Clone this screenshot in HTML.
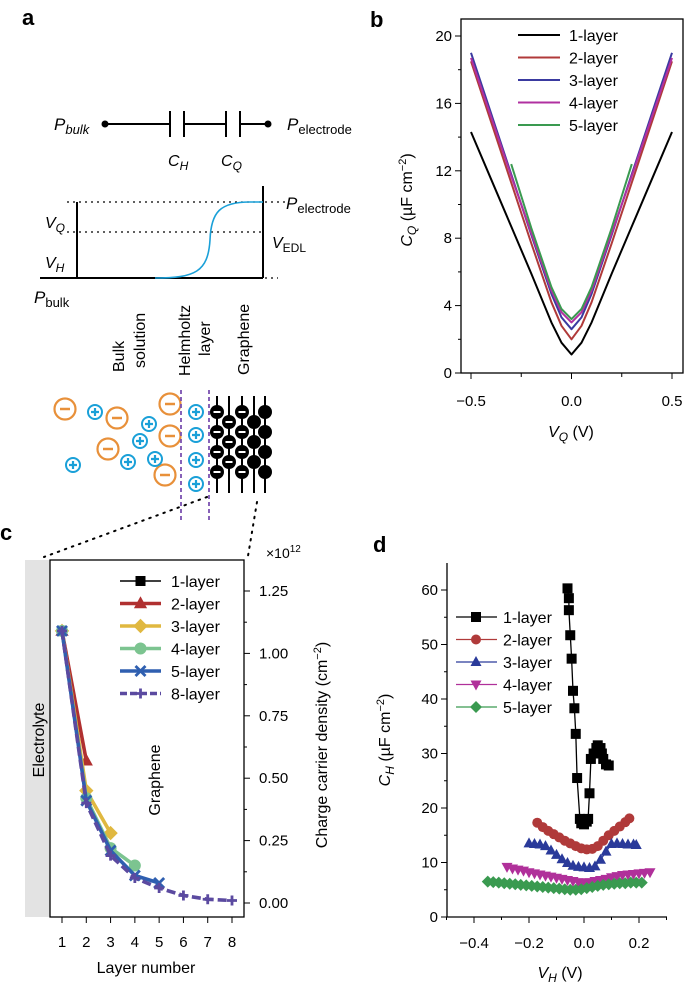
<!DOCTYPE html>
<html><head><meta charset="utf-8"><style>
body{margin:0;background:#fff}
svg{display:block;font-family:"Liberation Sans",sans-serif}
</style></head><body>
<svg id="fig" width="685" height="987" viewBox="0 0 685 987">
<!-- Panel a -->
<g fill="#000">
<text x="22" y="25" font-size="22" font-weight="bold">a</text>
<g stroke="#000" stroke-width="2">
<line x1="105" y1="124" x2="170" y2="124"/><line x1="170" y1="111" x2="170" y2="137"/><line x1="184" y1="111" x2="184" y2="137"/>
<line x1="184" y1="124" x2="226" y2="124"/><line x1="226" y1="111" x2="226" y2="137"/><line x1="240" y1="111" x2="240" y2="137"/>
<line x1="240" y1="124" x2="268" y2="124"/>
<circle cx="105" cy="124" r="3.5" stroke="none"/><circle cx="268" cy="124" r="3.5" stroke="none"/>
</g>
<text x="54" y="130" font-size="17" font-style="italic">P<tspan font-size="13" dy="4">bulk</tspan></text>
<text x="287" y="130" font-size="17" font-style="italic">P<tspan font-size="13" font-style="normal" dy="4">electrode</tspan></text>
<text x="168" y="166" font-size="16" font-style="italic">C<tspan font-size="12" dy="4">H</tspan></text>
<text x="221" y="166" font-size="16" font-style="italic">C<tspan font-size="12" dy="4">Q</tspan></text>
<g stroke="#000">
<line x1="77" y1="202" x2="77" y2="278" stroke-width="2"/>
<line x1="263" y1="186" x2="263" y2="278" stroke-width="2"/>
<line x1="40" y1="278" x2="263" y2="278" stroke-width="2"/>
<line x1="67" y1="202" x2="285" y2="202" stroke-dasharray="2,4" stroke-width="1.3"/>
<line x1="67" y1="232" x2="263" y2="232" stroke-dasharray="2,4" stroke-width="1.3"/>
<line x1="265" y1="278" x2="278" y2="278" stroke-dasharray="2,4" stroke-width="1.3"/>
<path d="M155,278 C195,278 208,272 210,240 C211,212 220,202 250,202 L263,202" fill="none" stroke="#1aa0d8" stroke-width="1.6"/>
</g>
<text x="286" y="209" font-size="17" font-style="italic">P<tspan font-size="13" font-style="normal" dy="4">electrode</tspan></text>
<text x="45" y="228" font-size="16" font-style="italic">V<tspan font-size="12" dy="4">Q</tspan></text>
<text x="45" y="268" font-size="16" font-style="italic">V<tspan font-size="12" dy="4">H</tspan></text>
<text x="272" y="248" font-size="16" font-style="italic">V<tspan font-size="12" font-style="normal" dy="4">EDL</tspan></text>
<text x="34" y="303" font-size="17" font-style="italic">P<tspan font-size="13" font-style="normal" dy="4">bulk</tspan></text>
<g font-size="16">
<text transform="translate(124,372) rotate(-90)">Bulk</text>
<text transform="translate(145,368) rotate(-90)">solution</text>
<text transform="translate(190,376) rotate(-90)">Helmholtz</text>
<text transform="translate(210,356) rotate(-90)">layer</text>
<text transform="translate(249,375) rotate(-90)">Graphene</text>
</g>
<g id="ions"></g>
<line x1="181" y1="390" x2="181" y2="520" stroke="#7a50b0" stroke-width="1.8" stroke-dasharray="4,3"/>
<line x1="209" y1="390" x2="209" y2="520" stroke="#7a50b0" stroke-width="1.8" stroke-dasharray="4,3"/>
<line x1="207" y1="497" x2="44" y2="557" stroke="#000" stroke-width="2" stroke-dasharray="1.5,6" stroke-linecap="round"/>
<line x1="257" y1="502" x2="248" y2="556" stroke="#000" stroke-width="2" stroke-dasharray="1.5,6" stroke-linecap="round"/>
</g>
<g id="pb"></g>
<g id="pc"></g>
<g id="pd"></g>
</svg>
<script>
// ---- Panel b data ----
const bV = [-0.5,-0.4,-0.3,-0.2,-0.1,-0.05,0,0.05,0.1,0.2,0.3,0.4,0.5];
const bLayer1 = [14.3,11.5,8.7,5.9,3.0,1.8,1.1,1.8,3.0,5.9,8.7,11.5,14.3];
const bLayer2 = [18.5,14.9,11.3,7.7,4.2,2.8,2.0,2.8,4.2,7.7,11.3,14.9,18.5];
const bLayer3 = [19.0,15.4,11.8,8.2,4.7,3.3,2.6,3.3,4.7,8.2,11.8,15.4,19.0];
const bLayer4 = [18.7,15.2,11.7,8.3,4.9,3.6,3.0,3.6,4.9,8.3,11.7,15.2,18.7];
const bLayer5 = [null,null,12.4,8.6,5.1,3.8,3.2,3.8,5.1,8.6,12.4,null,null];
const bYTicks = [0,4,8,12,16,20];
const bXTicks = [-0.5,0,0.5];
const bXTickLabels = ["\u22120.5","0.0","0.5"];
const bNames = ["1-layer","2-layer","3-layer","4-layer","5-layer"];
// ---- Panel c data ----
const cLayers = [1,2,3,4,5,6,7,8];
const c1 = [1.09];
const c2 = [1.09,0.57];
const c3 = [1.09,0.45,0.28];
const c4 = [1.09,0.42,0.22,0.15];
const c5 = [1.09,0.41,0.21,0.11,0.08];
const c8 = [1.09,0.40,0.19,0.10,0.06,0.03,0.015,0.01];
const cYTicks = [0,0.25,0.5,0.75,1.0,1.25];
const cYTickLabels = ["0.00","0.25","0.50","0.75","1.00","1.25"];
const cNames = ["1-layer","2-layer","3-layer","4-layer","5-layer","8-layer"];
// ---- Panel d data ----
const d1x = [-0.06,-0.055,-0.055,-0.05,-0.045,-0.04,-0.035,-0.03,-0.025,-0.015,-0.01,0,0.01,0.015,0.02,0.025,0.035,0.045,0.05,0.06,0.065,0.07,0.08,0.09];
const d1y = [60.3,58.5,56.3,51.7,47.4,41.5,38.3,33.6,25.5,18,17.2,17,17.5,18,22.7,29,30,31,31.5,31,30,29,28,27.8];
const d2x = [-0.17,-0.15,-0.13,-0.11,-0.09,-0.07,-0.05,-0.03,-0.01,0.01,0.03,0.05,0.07,0.09,0.11,0.13,0.15,0.165];
const d2y = [17.3,16.5,15.8,15.2,14.6,14.0,13.5,13.0,12.6,12.4,12.5,13.0,14.0,15.0,15.8,16.6,17.4,18.1];
const d3x = [-0.2,-0.18,-0.16,-0.14,-0.12,-0.1,-0.08,-0.06,-0.04,-0.02,0,0.02,0.04,0.06,0.08,0.1,0.12,0.14,0.16,0.18,0.19];
const d3y = [13.5,13.4,13.3,13.0,12.2,11.4,10.6,9.9,9.4,9.2,9.1,9.0,9.3,10.5,12.0,13.4,13.5,13.4,13.3,13.3,13.2];
const d4x = [-0.28,-0.26,-0.24,-0.22,-0.2,-0.18,-0.16,-0.14,-0.12,-0.1,-0.08,-0.06,-0.04,-0.02,0,0.02,0.04,0.06,0.08,0.1,0.12,0.14,0.16,0.18,0.2,0.22,0.24];
const d4y = [9.2,8.9,8.7,8.5,8.2,8.0,7.8,7.6,7.4,7.2,7.0,6.8,6.6,6.4,6.3,6.4,6.6,6.8,7.0,7.3,7.5,7.7,7.8,7.9,8.0,8.1,8.2];
const d5x = [-0.35,-0.33,-0.31,-0.29,-0.27,-0.25,-0.23,-0.21,-0.19,-0.17,-0.15,-0.13,-0.11,-0.09,-0.07,-0.05,-0.03,-0.01,0.01,0.03,0.05,0.07,0.09,0.11,0.13,0.15,0.17,0.19,0.21];
const d5y = [6.5,6.4,6.3,6.2,6.1,6.0,5.9,5.8,5.7,5.6,5.5,5.4,5.3,5.2,5.1,5.0,5.0,5.1,5.3,5.5,5.7,5.9,6.0,6.1,6.2,6.2,6.3,6.3,6.3];
const dYTicks = [0,10,20,30,40,50,60];
const dXTicks = [-0.4,-0.2,0,0.2];
const dXTickLabels = ["\u22120.4","\u22120.2","0.0","0.2"];
const dNames = ["1-layer","2-layer","3-layer","4-layer","5-layer"];

const NS="http://www.w3.org/2000/svg";
function mk(parent,tag,attrs,text){const e=document.createElementNS(NS,tag);for(const k in attrs)e.setAttribute(k,attrs[k]);if(text!==undefined)e.textContent=text;parent.appendChild(e);return e;}

// ===== ions (panel a illustration) =====
(function(){
const g=document.getElementById('ions');
const neg=[[65,409],[117,418],[170,404],[108,449],[170,436],[165,475]];
const pos=[[95,412],[149,424],[140,441],[128,462],[155,459],[73,465],[196,412],[196,435],[196,460],[196,484]];
neg.forEach(p=>{const c=mk(g,'circle',{cx:p[0],cy:p[1],r:10.5,fill:'#fff',stroke:'#e8903a','stroke-width':2.2});


mk(g,'line',{x1:p[0]-5,y1:p[1],x2:p[0]+5,y2:p[1],stroke:'#e8903a','stroke-width':2.5});});
pos.forEach(p=>{const c=mk(g,'circle',{cx:p[0],cy:p[1],r:7,fill:'#fff',stroke:'#1aa0d8','stroke-width':2});


mk(g,'path',{d:`M${p[0]-4},${p[1]}h8M${p[0]},${p[1]-4}v8`,stroke:'#1aa0d8','stroke-width':2.2});});
const cols=[217,229,242,254,265];
cols.forEach((x,i)=>{mk(g,'line',{x1:x,y1:396,x2:x,y2:493,stroke:'#000','stroke-width':2});
const off=(i%2)?10:0;
for(let j=0;j<4;j++){const cy=412+off+j*20; if(cy>480)continue;
const c=mk(g,'circle',{cx:x,cy:cy,r:7,fill:'#000'});


if(i<3)mk(g,'line',{x1:x-3.5,y1:cy,x2:x+3.5,y2:cy,stroke:'#fff','stroke-width':2});}});
})();

// ===== Panel b =====
(function(){
const g=document.getElementById('pb');
const L=461,R=683,T=19,B=373;
const x=v=>571.5+v*201, y=v=>B-v*(337/20);
const lab=mk(g,'text',{x:370,y:27,'font-size':22,'font-weight':'bold'},'b');


const fr=mk(g,'rect',{x:L,y:T,width:R-L,height:B-T,fill:'none',stroke:'#000','stroke-width':1.3});


bYTicks.forEach(t=>{mk(g,'line',{x1:L-6,y1:y(t),x2:L,y2:y(t),stroke:'#000'});
const tx=mk(g,'text',{x:L-9,y:y(t)+5,'font-size':15,'text-anchor':'end'},String(t));

});
[2,6,10,14,18].forEach(t=>mk(g,'line',{x1:L-3,y1:y(t),x2:L,y2:y(t),stroke:'#000'}));
bXTicks.forEach((t,i)=>{mk(g,'line',{x1:x(t),y1:B,x2:x(t),y2:B+6,stroke:'#000'});
const tx=mk(g,'text',{x:x(t),y:406,'font-size':15,'text-anchor':'middle'},bXTickLabels[i]);

});
[-0.25,0.25].forEach(t=>mk(g,'line',{x1:x(t),y1:B,x2:x(t),y2:B+4,stroke:'#000'}));
const xt=mk(g,'text',{x:571,y:437,'font-size':16,'text-anchor':'middle'});
xt.innerHTML='<tspan font-style="italic">V</tspan><tspan font-style="italic" font-size="12" dy="4">Q</tspan><tspan dy="-4"> (V)</tspan>';


const yt=mk(g,'text',{transform:'translate(412,200) rotate(-90)','font-size':16,'text-anchor':'middle'});
yt.innerHTML='<tspan font-style="italic">C</tspan><tspan font-style="italic" font-size="12" dy="4">Q</tspan><tspan dy="-4"> (\u00b5F cm</tspan><tspan font-size="11" dy="-6">\u22122</tspan><tspan dy="6">)</tspan>';


const series=[bLayer1,bLayer2,bLayer3,bLayer4,bLayer5];
const cols=['#000','#b03a3a','#3a3aa0','#b030a0','#3a9a50'];
series.forEach((s,i)=>{let d='';let pen=false;
s.forEach((v,j)=>{if(v===null){pen=false;return;}d+=(pen?'L':'M')+x(bV[j]).toFixed(1)+','+y(v).toFixed(1);pen=true;});
const p=mk(g,'path',{d:d,fill:'none',stroke:cols[i],'stroke-width':2,'stroke-linejoin':'round'});


const ly=35+i*22.5;
const ll=mk(g,'line',{x1:518,y1:ly,x2:560,y2:ly,stroke:cols[i],'stroke-width':2});


const lt=mk(g,'text',{x:569,y:ly+6,'font-size':16},bNames[i]);

});
})();

// marker helper
function marker(g,type,cx,cy,s,col){
 let e;
 if(type==='square')e=mk(g,'rect',{x:cx-s,y:cy-s,width:2*s,height:2*s,fill:col});
 else if(type==='circle')e=mk(g,'circle',{cx:cx,cy:cy,r:s,fill:col});
 else if(type==='tri')e=mk(g,'path',{d:`M${cx},${cy-s*1.2}L${cx+s*1.1},${cy+s*0.8}L${cx-s*1.1},${cy+s*0.8}Z`,fill:col});
 else if(type==='tridown')e=mk(g,'path',{d:`M${cx},${cy+s*1.2}L${cx+s*1.1},${cy-s*0.8}L${cx-s*1.1},${cy-s*0.8}Z`,fill:col});
 else if(type==='diamond')e=mk(g,'path',{d:`M${cx},${cy-s*1.2}L${cx+s*1.2},${cy}L${cx},${cy+s*1.2}L${cx-s*1.2},${cy}Z`,fill:col});
 else if(type==='x')e=mk(g,'path',{d:`M${cx-s},${cy-s}L${cx+s},${cy+s}M${cx+s},${cy-s}L${cx-s},${cy+s}`,stroke:col,'stroke-width':2.8,fill:'none'});
 else if(type==='plus')e=mk(g,'path',{d:`M${cx-s},${cy}L${cx+s},${cy}M${cx},${cy-s}L${cx},${cy+s}`,stroke:col,'stroke-width':2.8,fill:'none'});
 return e;
}

// ===== Panel c =====
(function(){
const g=document.getElementById('pc');
const L=50,R=244,T=560,B=917;
const x=v=>62+(v-1)*(170/7), y=v=>903-v*(312/1.25);
const lab=mk(g,'text',{x:0,y:540,'font-size':22,'font-weight':'bold'},'c');


const gr=mk(g,'rect',{x:25,y:T,width:L-25,height:B-T,fill:'#e3e3e3'});


const el=mk(g,'text',{transform:'translate(44,740) rotate(-90)','font-size':16,'text-anchor':'middle'},'Electrolyte');


const fr=mk(g,'rect',{x:L,y:T,width:R-L,height:B-T,fill:'none',stroke:'#000','stroke-width':1.3});


cYTicks.forEach((t,i)=>{mk(g,'line',{x1:R,y1:y(t),x2:R+6,y2:y(t),stroke:'#000'});
const tx=mk(g,'text',{x:R+15,y:y(t)+5,'font-size':15},cYTickLabels[i]);

});
[0.125,0.375,0.625,0.875,1.125].forEach(t=>mk(g,'line',{x1:R,y1:y(t),x2:R+3,y2:y(t),stroke:'#000'}));
const ex=mk(g,'text',{x:266,y:558,'font-size':14});
ex.innerHTML='\u00d710<tspan font-size="10" dy="-6">12</tspan>';


cLayers.forEach(t=>{mk(g,'line',{x1:x(t),y1:B,x2:x(t),y2:B+6,stroke:'#000'});
const tx=mk(g,'text',{x:x(t),y:947,'font-size':15,'text-anchor':'middle'},String(t));

});
const xt=mk(g,'text',{x:146,y:973,'font-size':16,'text-anchor':'middle'},'Layer number');


const yt=mk(g,'text',{transform:'translate(327,745) rotate(-90)','font-size':16,'text-anchor':'middle'});
yt.innerHTML='Charge carrier density (cm<tspan font-size="11" dy="-6">\u22122</tspan><tspan dy="6">)</tspan>';


const gp=mk(g,'text',{transform:'translate(160,780) rotate(-90)','font-size':16,'text-anchor':'middle'},'Graphene');


const series=[c1,c2,c3,c4,c5,c8];
const cols=['#000','#b03030','#e0b840','#7cc490','#2f5fb0','#5b4aa0'];
const mks=['square','tri','diamond','circle','x','plus'];
const sz=[5,6,6,6,5,5];
for(let i=0;i<series.length;i++){const s=series[i];
 const d=s.map((v,j)=>(j?'L':'M')+x(cLayers[j]).toFixed(1)+','+y(v).toFixed(1)).join('');
 const p=mk(g,'path',{d:d,fill:'none',stroke:cols[i],'stroke-width':3.6,'stroke-dasharray':i===5?'9,4':'none'});
 
 
 s.forEach((v,j)=>{const m=marker(g,mks[i],x(cLayers[j]),y(v),sz[i],cols[i]);
 
 });
}
series.forEach((s,i)=>{const ly=581+i*22.5;
 const ll=mk(g,'line',{x1:120,y1:ly,x2:161,y2:ly,stroke:cols[i],'stroke-width':i?3.4:1.5,'stroke-dasharray':i===5?'7,3':'none'});
 
 
 marker(g,mks[i],140.5,ly,sz[i],cols[i]);
 const lt=mk(g,'text',{x:171,y:ly+6,'font-size':16},cNames[i]);
 
 });
})();

// ===== Panel d =====
(function(){
const g=document.getElementById('pd');
const L=447,R=667,T=563,B=917;
const x=v=>584+v*275, y=v=>B-v*(327/60);
const lab=mk(g,'text',{x:373,y:552,'font-size':22,'font-weight':'bold'},'d');


const ax=mk(g,'path',{d:`M${L},${T}L${L},${B}L${R},${B}`,fill:'none',stroke:'#000','stroke-width':1.3});


dYTicks.forEach(t=>{mk(g,'line',{x1:L-6,y1:y(t),x2:L,y2:y(t),stroke:'#000'});
const tx=mk(g,'text',{x:L-9,y:y(t)+5,'font-size':15,'text-anchor':'end'},String(t));

});
[5,15,25,35,45,55].forEach(t=>mk(g,'line',{x1:L-3,y1:y(t),x2:L,y2:y(t),stroke:'#000'}));
dXTicks.forEach((t,i)=>{mk(g,'line',{x1:x(t),y1:B,x2:x(t),y2:B+6,stroke:'#000'});
const tx=mk(g,'text',{x:x(t),y:948,'font-size':15,'text-anchor':'middle'},dXTickLabels[i]);

});
[-0.5,-0.3,-0.1,0.1,0.3].forEach(t=>mk(g,'line',{x1:x(t),y1:B,x2:x(t),y2:B+3,stroke:'#000'}));
const xt=mk(g,'text',{x:560,y:978,'font-size':16,'text-anchor':'middle'});
xt.innerHTML='<tspan font-style="italic">V</tspan><tspan font-style="italic" font-size="12" dy="4">H</tspan><tspan dy="-4"> (V)</tspan>';


const yt=mk(g,'text',{transform:'translate(390,740) rotate(-90)','font-size':16,'text-anchor':'middle'});
yt.innerHTML='<tspan font-style="italic">C</tspan><tspan font-style="italic" font-size="12" dy="4">H</tspan><tspan dy="-4"> (\u00b5F cm</tspan><tspan font-size="11" dy="-6">\u22122</tspan><tspan dy="6">)</tspan>';


const xs=[d1x,d2x,d3x,d4x,d5x], ys=[d1y,d2y,d3y,d4y,d5y];
const cols=['#000','#b03a3a','#2a3a9a','#b0309a','#3a9a50'];
const mks=['square','circle','tri','tridown','diamond'];
xs.forEach((sx,i)=>{const sy=ys[i];
 const d=sx.map((v,j)=>(j?'L':'M')+x(v).toFixed(1)+','+y(sy[j]).toFixed(1)).join('');
 const p=mk(g,'path',{d:d,fill:'none',stroke:cols[i],'stroke-width':1.3});
 
 
 sx.forEach((v,j)=>{const m=marker(g,mks[i],x(v),y(sy[j]),5,cols[i]);
 
 });
 const ly=617+i*22.5;
 const ll=mk(g,'line',{x1:456,y1:ly,x2:497,y2:ly,stroke:cols[i],'stroke-width':1.3});
 
 
 marker(g,mks[i],476,ly,5,cols[i]);
 const lt=mk(g,'text',{x:503,y:ly+6,'font-size':16},dNames[i]);
 
 });
})();
</script>
</body></html>
